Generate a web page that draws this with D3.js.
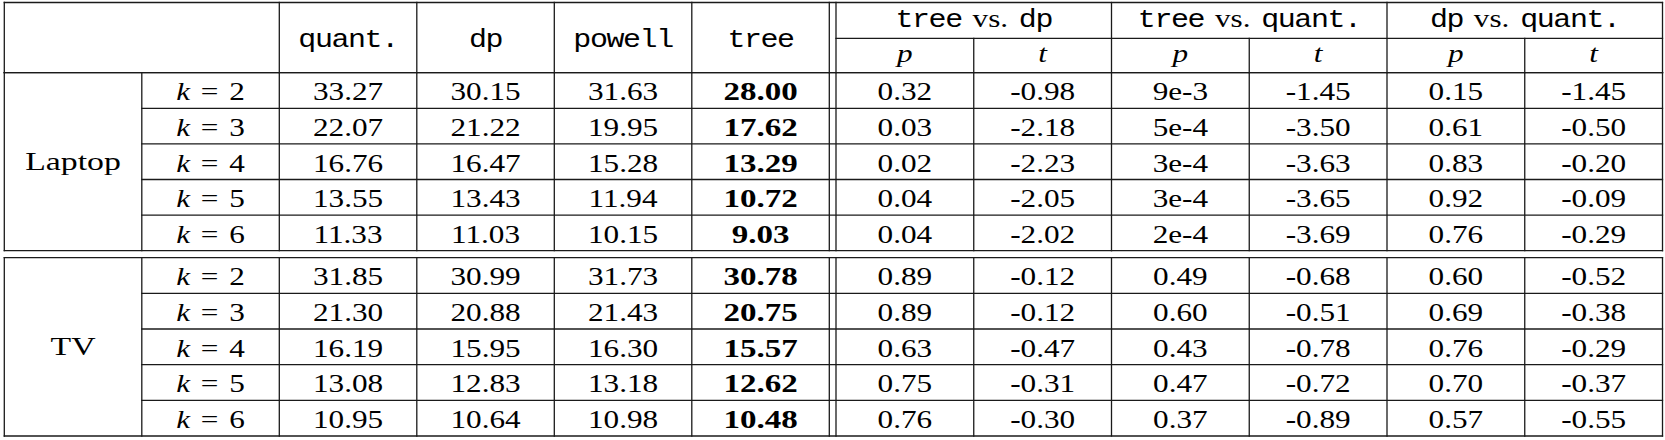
<!DOCTYPE html>
<html>
<head>
<meta charset="utf-8">
<title>tree vs. baselines</title>
<script src="https://cdn.jsdelivr.net/npm/d3@7"></script>
<style>
  body { margin: 0; background: #fff; }
  text { fill: #000; }
</style>
</head>
<body>
<svg id="chart" width="1665" height="440"></svg>
<script>
// column heads
var methods = ["quant.", "dp", "powell", "tree"];
var comparisons = [["tree", "dp"], ["tree", "quant."], ["dp", "quant."]];
var statNames = ["p", "t"];
var devices = ["Laptop", "TV"];
var ks = [2, 3, 4, 5, 6];

// Laptop
var laptopQuant  = [33.27, 22.07, 16.76, 13.55, 11.33];
var laptopDp     = [30.15, 21.22, 16.47, 13.43, 11.03];
var laptopPowell = [31.63, 19.95, 15.28, 11.94, 10.15];
var laptopTree   = [28.00, 17.62, 13.29, 10.72, 9.03];
var laptopTreeDpP    = [0.32, 0.03, 0.02, 0.04, 0.04];
var laptopTreeDpT    = [-0.98, -2.18, -2.23, -2.05, -2.02];
var laptopTreeQuantP = [9e-3, 5e-4, 3e-4, 3e-4, 2e-4];
var laptopTreeQuantT = [-1.45, -3.50, -3.63, -3.65, -3.69];
var laptopDpQuantP   = [0.15, 0.61, 0.83, 0.92, 0.76];
var laptopDpQuantT   = [-1.45, -0.50, -0.20, -0.09, -0.29];

// TV
var tvQuant  = [31.85, 21.30, 16.19, 13.08, 10.95];
var tvDp     = [30.99, 20.88, 15.95, 12.83, 10.64];
var tvPowell = [31.73, 21.43, 16.30, 13.18, 10.98];
var tvTree   = [30.78, 20.75, 15.57, 12.62, 10.48];
var tvTreeDpP    = [0.89, 0.89, 0.63, 0.75, 0.76];
var tvTreeDpT    = [-0.12, -0.12, -0.47, -0.31, -0.30];
var tvTreeQuantP = [0.49, 0.60, 0.43, 0.47, 0.37];
var tvTreeQuantT = [-0.68, -0.51, -0.78, -0.72, -0.89];
var tvDpQuantP   = [0.60, 0.69, 0.76, 0.70, 0.57];
var tvDpQuantT   = [-0.52, -0.38, -0.29, -0.37, -0.55];

var blocks = [
  { device: devices[0],
    means: [laptopQuant, laptopDp, laptopPowell, laptopTree],
    stats: [laptopTreeDpP, laptopTreeDpT, laptopTreeQuantP, laptopTreeQuantT, laptopDpQuantP, laptopDpQuantT] },
  { device: devices[1],
    means: [tvQuant, tvDp, tvPowell, tvTree],
    stats: [tvTreeDpP, tvTreeDpT, tvTreeQuantP, tvTreeQuantT, tvDpQuantP, tvDpQuantT] }
];

var SERIF = "'Liberation Serif', 'Times New Roman', serif";
var MONO = "'Liberation Mono', 'Courier New', monospace";
var SX = 1.2;   // the table is drawn a bit wide
var FS = 26;

var svg = d3.select("#chart");

// left half: label, k, 4 methods; right half: 3 comparisons x (p, t)
var xL = d3.scaleLinear().domain([0, 6]).range([4.3, 829.3]);
var xR = d3.scaleLinear().domain([0, 6]).range([836, 1662.5]);
var yHead = [2.5, 38.3, 72.7];
var yBlock = [
  d3.scaleLinear().domain([0, 5]).range([72.7, 250.7]),
  d3.scaleLinear().domain([0, 5]).range([257.7, 436])
];

var fmt2 = function(v) { return v.toFixed(2); };
var fmtP = function(v) { return v < 0.01 ? v.toExponential(0) : v.toFixed(2); };

// ---- rules ----
var segs = [];
function h(y, x1, x2) { segs.push({x1: x1, y1: y, x2: x2, y2: y}); }
function v(x, y1, y2) { segs.push({x1: x, y1: y1, x2: x, y2: y2}); }

h(yHead[0], xL(0), xR(6));
h(yHead[1], xR(0), xR(6));
h(yHead[2], xL(0), xR(6));
yBlock.forEach(function(yb) {
  h(yb(0), xL(0), xR(6));
  h(yb(5), xL(0), xR(6));
  d3.range(1, 5).forEach(function(i) { h(yb(i), xL(1), xR(6)); });
});

// vertical rules: from the header top, from the sub-header, or only in the body
var fullX = [xL(0), xL(2), xL(3), xL(4), xL(5), xL(6), xR(0), xR(2), xR(4), xR(6)];
var subX = [xR(1), xR(3), xR(5)];
fullX.forEach(function(x) { v(x, yHead[0], yHead[2]); });
subX.forEach(function(x) { v(x, yHead[1], yHead[2]); });
fullX.concat(subX, [xL(1)]).forEach(function(x) {
  yBlock.forEach(function(yb) { v(x, yb(0), yb(5)); });
});

svg.append("g").selectAll("line")
  .data(segs)
  .enter().append("line")
    .attr("x1", function(d) { return d.x1; })
    .attr("y1", function(d) { return d.y1; })
    .attr("x2", function(d) { return d.x2; })
    .attr("y2", function(d) { return d.y2; })
    .attr("stroke", "#1a1a1a")
    .attr("stroke-width", 1.3)
    .attr("stroke-linecap", "square");

// ---- text ----
function label(x, y, sx) {
  return svg.append("text")
    .attr("transform", "translate(" + x + "," + y + ") scale(" + (sx || SX) + ",1)")
    .attr("text-anchor", "middle")
    .style("font-family", SERIF)
    .style("font-size", FS + "px");
}
function mono(sel) {
  return sel.style("font-family", MONO).style("font-size", "25px").style("letter-spacing", "-1.2px");
}

// header: methods
methods.forEach(function(m, j) {
  mono(label((xL(j + 2) + xL(j + 3)) / 2, 46.5)).text(m);
});

// header: comparisons
comparisons.forEach(function(c, j) {
  var t = label((xR(2 * j) + xR(2 * j + 2)) / 2, 27);
  mono(t.append("tspan")).text(c[0]);
  t.append("tspan").attr("dx", 9).text("vs.");
  mono(t.append("tspan")).attr("dx", 9).text(c[1]);
  statNames.forEach(function(s, k) {
    label((xR(2 * j + k) + xR(2 * j + k + 1)) / 2, 62)
      .style("font-style", "italic")
      .text(s);
  });
});

// body
blocks.forEach(function(b, bi) {
  var yb = yBlock[bi];
  label((xL(0) + xL(1)) / 2, (yb(0) + yb(5)) / 2 + 8.5, 1.3)
    .text(b.device);

  ks.forEach(function(k, i) {
    var base = yb(i) + 27.6;

    var kt = label((xL(1) + xL(2)) / 2, base);
    kt.append("tspan").style("font-style", "italic").text("k");
    kt.append("tspan").attr("dx", 9).text("=");
    kt.append("tspan").attr("dx", 9).text(k);

    b.means.forEach(function(series, j) {
      label((xL(j + 2) + xL(j + 3)) / 2, base, j === 3 ? 1.27 : SX)
        .style("font-weight", j === 3 ? "bold" : "normal")
        .text(fmt2(series[i]));
    });

    b.stats.forEach(function(series, j) {
      label((xR(j) + xR(j + 1)) / 2, base)
        .text(j % 2 === 0 ? fmtP(series[i]) : fmt2(series[i]));
    });
  });
});
</script>
</body>
</html>
